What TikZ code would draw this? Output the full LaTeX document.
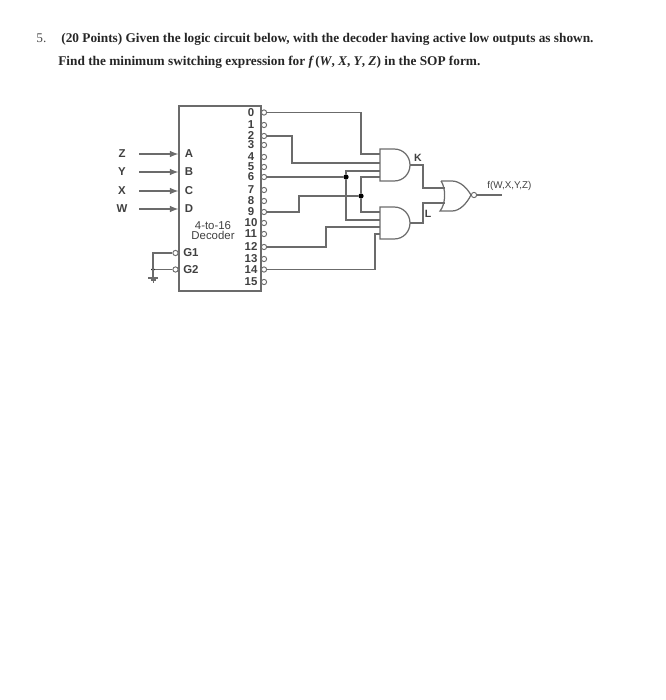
\documentclass[tikz,border=0pt]{standalone}
\usepackage{fontspec}
\setmainfont{Liberation Serif}
\newfontfamily\chipfont{Liberation Sans}
\usetikzlibrary{shapes}

\tikzset{
  wire/.style={draw=black!58,line width=0.7pt},
  chip/.style={font=\chipfont\fontsize{6.5}{7}\selectfont,text=black!75,inner sep=0pt},
  chipbold/.style={chip,font=\chipfont\bfseries\fontsize{6.5}{7}\selectfont},
  pin/.style={circle,draw=black!58,line width=0.55pt,fill=white,inner sep=0pt,minimum size=3pt},
  junction/.style={circle,fill=black,inner sep=0pt,minimum size=3pt},
  question/.style={font=\fontsize{7.57}{9}\selectfont\bfseries,text=black!85,inner sep=0pt,anchor=base west}
}

\begin{document}
\begin{tikzpicture}[x=0.02cm,y=-0.02cm]
\useasboundingbox (0,0) rectangle (666,700);

% question text
\node[question,font=\fontsize{7.57}{9}\selectfont,text=black!70] (num) at (36,42.5) {5.};
\node[question] (lineone) at (61,42.5) {(20 Points) Given the logic circuit below, with the decoder having active low outputs as shown.};
\node[question] (linetwo) at (58,65.5) {Find the minimum switching expression for \textit{f\,}(\textit{W}, \textit{X}, \textit{Y}, \textit{Z}) in the SOP form.};

% decoder
\node[draw=black!58,line width=0.7pt,minimum width=1.64cm,minimum height=3.7cm,inner sep=0pt] (dec) at (220,198.5) {};
\node[chip] (dectop) at (213,225.5) {4-to-16};
\node[chip] (decbot) at (213,235.5) {Decoder};

% outputs
\foreach \i/\y in {0/112.5,1/125,2/136,3/145,4/157,5/167,6/177,7/190,8/201,9/212,10/223,11/234,12/247,13/259,14/269.5,15/282} {
  \node[chipbold] (num\i) at (251,\y) {\i};
  \node[pin] (o\i) at (264,\y) {};
}

% inputs
\foreach \name/\pinname/\y in {Z/A/154,Y/B/172,X/C/191,W/D/209} {
  \node[chipbold] (in\name) at (122,\y) {\name};
  \node[chipbold] (pin\pinname) at (189,\y) {\pinname};
  \coordinate (start\name) at (139,\y);
  \draw[wire,-latex] (start\name) -- (start\name -| dec.west);
}

% enables
\node[chipbold,anchor=west] (gone) at (183,253) {G1};
\node[chipbold,anchor=west] (gtwo) at (183,269.5) {G2};
\node[pin] (enone) at (175.5,253) {};
\node[pin] (entwo) at (175.5,269.5) {};
\coordinate (gnd) at (153,278);
\node[junction,minimum size=2pt] (dotg) at (153,269.5) {};
\draw[wire] (enone) -| (gnd);
\draw[wire] (entwo) -- (dotg);
\draw[wire] (148,278) -- (158,278);
\draw[wire] (150.5,280) -- (155.5,280);
\draw[wire] (152.5,282) -- (153.5,282);

% and gates
\foreach \gate/\y in {k/165,l/223} {
  \draw[wire] (380,\y-16) -- (394,\y-16) .. controls (404,\y-16) and (410,\y-8) .. (410,\y)
    .. controls (410,\y+8) and (404,\y+16) .. (394,\y+16) -- (380,\y+16) -- cycle;
  \coordinate (\gate out) at (410,\y);
}
\coordinate (kone) at (380,154);
\coordinate (ktwo) at (380,163);
\coordinate (kthree) at (380,171);
\coordinate (kfour) at (380,177);
\coordinate (lone) at (380,212);
\coordinate (ltwo) at (380,220);
\coordinate (lthree) at (380,227);
\coordinate (lfour) at (380,234);

% nor gate
\draw[wire] (441,181) -- (452,181) .. controls (460,181) and (467,188) .. (471,195)
  .. controls (467,203) and (460,211) .. (452,211) -- (440,211)
  .. controls (446,204) and (446,188) .. (441,181);
\node[pin] (bubble) at (474,195) {};
\coordinate (norone) at (445,188);
\coordinate (nortwo) at (445,203);
\coordinate (fout) at (502,195);

\node[junction] (dotsix) at (346,177) {};
\node[junction] (dotnine) at (361,196) {};

% wires to gate K
\draw[wire] (o0) -| (361,154) -- (kone);
\draw[wire] (o2) -| (292,163) -- (ktwo);
\draw[wire] (o6) -- (dotsix);
\draw[wire] (dotsix) |- (kthree);
\draw[wire] (dotnine) |- (kfour);

% wires to gate L
\draw[wire] (o9) -| (299,196) -- (dotnine);
\draw[wire] (dotnine) |- (lone);
\draw[wire] (dotsix) |- (ltwo);
\draw[wire] (o12) -| (326,227) -- (lthree);
\draw[wire] (o14) -| (375,234) -- (lfour);

% output side
\draw[wire] (kout) -| (423,188) -- (norone);
\draw[wire] (lout) -| (423,203) -- (nortwo);
\draw[wire] (bubble) -- (fout);

\node[chipbold,font=\chipfont\bfseries\fontsize{6}{6}\selectfont] (labk) at (418,158) {K};
\node[chipbold,font=\chipfont\bfseries\fontsize{6}{6}\selectfont] (labl) at (428,214) {L};
\node[chip,font=\chipfont\fontsize{5.6}{6}\selectfont,anchor=west] (labf) at (487,186) {f(W,X,Y,Z)};

\end{tikzpicture}
\end{document}
